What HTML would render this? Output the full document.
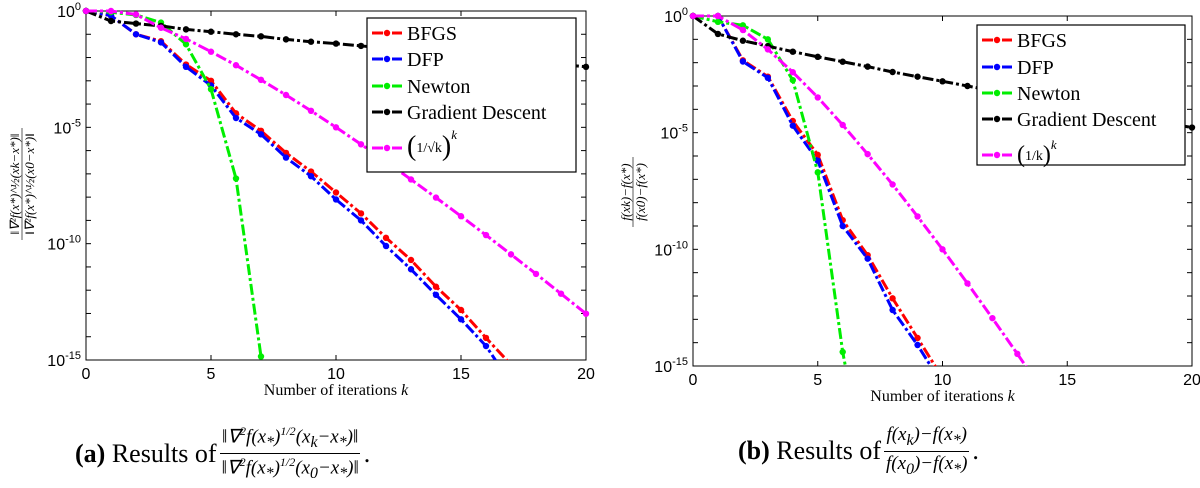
<!DOCTYPE html>
<html><head><meta charset="utf-8">
<style>
html,body{margin:0;padding:0;background:#fff;}
body{width:1200px;height:488px;position:relative;overflow:hidden;font-family:"Liberation Serif",serif;}
.cap{position:absolute;top:424px;font-size:26px;white-space:nowrap;display:flex;align-items:center;}
.frac{display:inline-flex;flex-direction:column;align-items:center;font-style:italic;font-size:19px;margin:0 3px;}
.frac .num{border-bottom:1.5px solid #000;padding:0 2px 1px;}
.frac .den{padding:1px 2px 0;}
</style></head>
<body>
<svg id="chart" width="1200" height="488" style="position:absolute;left:0;top:0"></svg>
<div class="cap" style="left:75px"><b>(a)</b>&nbsp;Results of <span class="frac"><span class="num">‖∇<sup style="font-size:12px">2</sup>f(x<sub>*</sub>)<sup style="font-size:12px">1/2</sup>(x<sub>k</sub>−x<sub>*</sub>)‖</span><span class="den">‖∇<sup style="font-size:12px">2</sup>f(x<sub>*</sub>)<sup style="font-size:12px">1/2</sup>(x<sub>0</sub>−x<sub>*</sub>)‖</span></span>.</div>
<div class="cap" style="left:738px"><b>(b)</b>&nbsp;Results of <span class="frac"><span class="num">f(x<sub>k</sub>)−f(x<sub>*</sub>)</span><span class="den">f(x<sub>0</sub>)−f(x<sub>*</sub>)</span></span>.</div>
<script>
// log10 values, k = 0..n
const leftBFGS=[0,-0.2,-1.0,-1.3,-2.3,-3.0,-4.4,-5.15,-6.1,-6.9,-7.8,-8.7,-9.75,-10.7,-11.85,-12.85,-14.05,-15.2];
const leftDFP=[0,-0.2,-1.0,-1.35,-2.4,-3.2,-4.6,-5.3,-6.3,-7.1,-8.1,-9.0,-10.1,-11.1,-12.2,-13.25,-14.4,-16];
const leftNewton=[0,-0.05,-0.17,-0.5,-1.43,-3.36,-7.2,-14.85];
const leftGD=[0,-0.43,-0.54,-0.64,-0.79,-0.89,-1.0,-1.09,-1.22,-1.32,-1.4,-1.5,-1.6,-1.7,-1.8,-1.9,-2.0,-2.1,-2.2,-2.3,-2.4];
const leftRef=[0,0,-0.15,-0.72,-1.2,-1.75,-2.33,-2.96,-3.61,-4.29,-5,-5.73,-6.47,-7.24,-8.02,-8.82,-9.63,-10.46,-11.3,-12.15,-13.01];
const rightBFGS=[0,0,-1.9,-2.6,-4.5,-5.95,-8.75,-10.25,-12.1,-13.8,-15.5];
const rightDFP=[0,0,-1.95,-2.65,-4.7,-6.2,-9.0,-10.4,-12.6,-14.1,-15.8];
const rightNewton=[0,-0.25,-0.4,-1.0,-2.75,-6.7,-14.4,-20];
const rightGD=[0,-0.77,-1.06,-1.29,-1.53,-1.75,-1.96,-2.17,-2.4,-2.6,-2.8,-3.0,-3.2,-3.4,-3.6,-3.8,-4.0,-4.2,-4.4,-4.6,-4.78];
const rightRef=[0,0,-0.6,-1.43,-2.41,-3.49,-4.67,-5.92,-7.22,-8.59,-10,-11.46,-12.95,-14.48,-16.05];
const xTicks=[0,5,10,15,20];
const yTickLabels=[0,-5,-10,-15];
const legendNames=["BFGS","DFP","Newton","Gradient Descent"];

const NS="http://www.w3.org/2000/svg";
const svg=document.getElementById('chart');
function mk(tag,attrs,parent){const e=document.createElementNS(NS,tag);for(const k in attrs)e.setAttribute(k,attrs[k]);(parent||svg).appendChild(e);return e;}
const colors=["#ff0000","#0000ff","#00ee00","#000000","#ff00ff"];
const DASH='11,3,3,3';

function panel(id,L,R,T,B,series,leg,refLabel,ynum,yden,ylx,yly,ylw){
  const xs=k=>L+(R-L)*k/20, ys=v=>T+(B-T)*(-v)/15;
  const g=mk('g',{});
  
  
  const cp=mk('clipPath',{id:id+'clip'},g);mk('rect',{x:L-4,y:T-4,width:R-L+8,height:B-T+4},cp);
  mk('rect',{x:L,y:T,width:R-L,height:B-T,fill:'none',stroke:'#000','stroke-width':1},g);
  for(let d=0;d>=-15;d--){const y=ys(d);mk('line',{x1:L,x2:L+5,y1:y,y2:y,stroke:'#000'},g);mk('line',{x1:R,x2:R-5,y1:y,y2:y,stroke:'#000'},g);}
  xTicks.forEach(t=>{const x=xs(t);mk('line',{x1:x,x2:x,y1:B,y2:B-5,stroke:'#000'},g);mk('line',{x1:x,x2:x,y1:T,y2:T+5,stroke:'#000'},g);
    const tx=mk('text',{x:x,y:B+19,'font-family':'Liberation Sans, sans-serif','font-size':16,'text-anchor':'middle'},g);tx.textContent=t;
    });
  yTickLabels.forEach(d=>{const y=ys(d);const tx=mk('text',{x:L-5,y:y+6,'font-family':'Liberation Sans, sans-serif','font-size':16,'text-anchor':'end'},g);
    tx.innerHTML='10<tspan dy="-7" font-size="11">'+d+'</tspan>';});
  const xl=mk('text',{x:(L+R)/2,y:B+35,'font-size':16,'text-anchor':'middle'},g);xl.innerHTML='Number of iterations <tspan font-style="italic">k</tspan>';
  
  const yg=mk('g',{transform:'translate('+ylx+','+yly+') rotate(-90)'},g);
  
  mk('line',{x1:-ylw/2,x2:ylw/2,y1:0,y2:0,stroke:'#777','stroke-width':1.2},yg);
  const n=mk('text',{x:0,y:-3,'font-size':13,'font-style':'italic','text-anchor':'middle'},yg);n.textContent=ynum;
  const dn=mk('text',{x:0,y:12,'font-size':13,'font-style':'italic','text-anchor':'middle'},yg);dn.textContent=yden;
  const sg=mk('g',{'clip-path':'url(#'+id+'clip)'},g);
  series.forEach((s,i)=>{
    const pts=s.map((v,k)=>xs(k).toFixed(1)+','+ys(v).toFixed(1)).join(' ');
    const pl=mk('polyline',{points:pts,fill:'none',stroke:colors[i],'stroke-width':3,'stroke-dasharray':DASH},sg);
    
    s.forEach((v,k)=>{const c=mk('circle',{cx:xs(k),cy:ys(v),r:3.2,fill:colors[i]},sg);
      });
  });
  const lg=mk('g',{},g);
  mk('rect',{x:leg.x,y:leg.y,width:leg.w,height:leg.h,fill:'#fff',stroke:'#000','stroke-width':1.2},lg);
  const rows=leg.rows;
  [...legendNames,null].forEach((nm,i)=>{
    const y=leg.y+rows[i];
    mk('line',{x1:leg.x+5,x2:leg.x+35,y1:y,y2:y,stroke:colors[i],'stroke-width':3,'stroke-dasharray':DASH},lg);
    mk('circle',{cx:leg.x+20,cy:y,r:3.2,fill:colors[i]},lg);
    const t=mk('text',{x:leg.x+40,y:y+7,'font-size':20},lg);
    if(nm){t.textContent=nm;}else{t.innerHTML=refLabel;}
    
  });
}
panel('left',86,586,11,360,[leftBFGS,leftDFP,leftNewton,leftGD,leftRef],{x:367,y:18,w:209,h:154,rows:[15,41,68,94,130]},
  '<tspan font-size="28">(</tspan><tspan font-size="14" dy="-3">1/√k</tspan><tspan font-size="28" dy="3">)</tspan><tspan font-size="13" font-style="italic" dy="-16">k</tspan>',
  '‖∇²f(x*)^½(xk−x*)‖','‖∇²f(x*)^½(x0−x*)‖',22,184,112);
panel('right',693,1192,16,366,[rightBFGS,rightDFP,rightNewton,rightGD,rightRef],{x:977,y:25,w:208,h:140,rows:[15,42,68,94,130]},
  '<tspan font-size="24">(</tspan><tspan font-size="14" dy="-2">1/k</tspan><tspan font-size="24" dy="2">)</tspan><tspan font-size="13" font-style="italic" dy="-13">k</tspan>',
  'f(xk)−f(x*)','f(x0)−f(x*)',633,192,70);
</script>
</body></html>
